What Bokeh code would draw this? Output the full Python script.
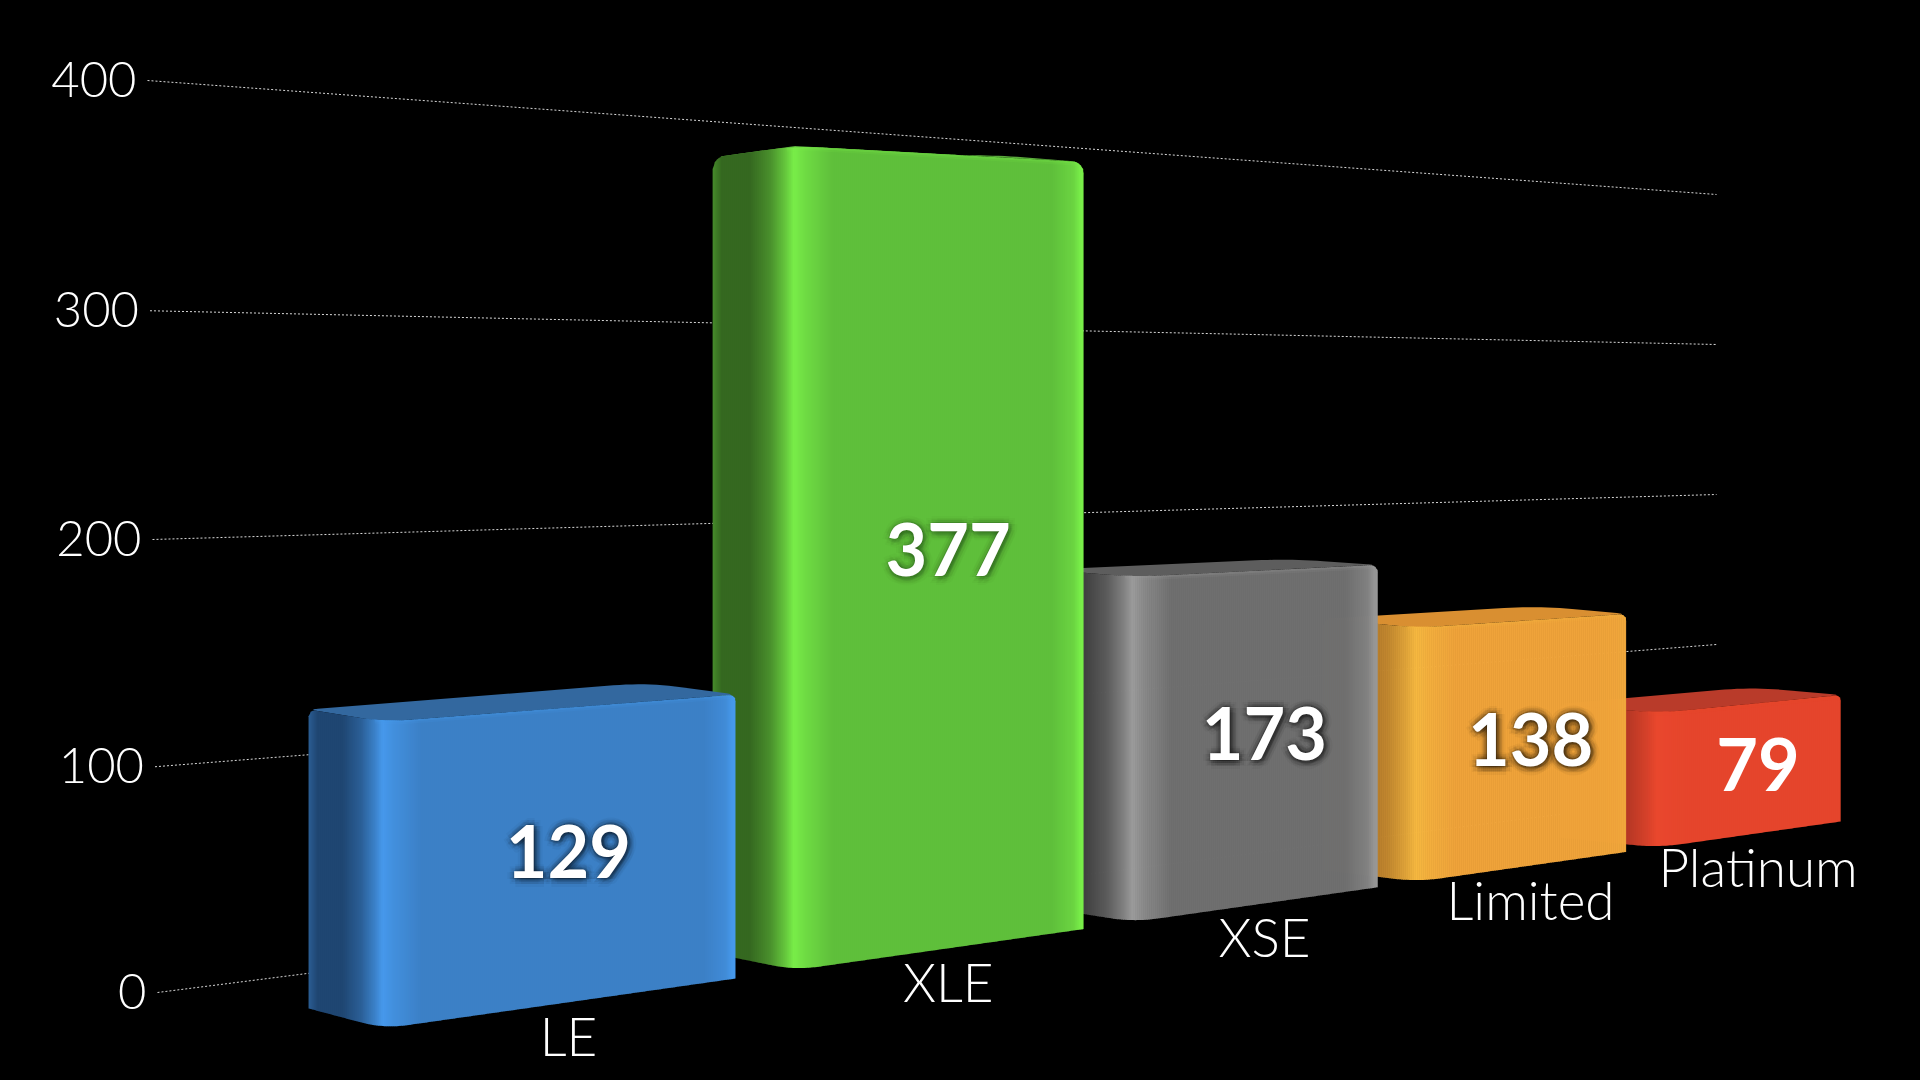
import math
import numpy as np
from bokeh.plotting import figure
from bokeh.models import Range1d
from bokeh.core.properties import value
from bokeh.embed import file_html
from bokeh.resources import INLINE

# ---------- data ----------
categories = ["LE", "XLE", "XSE", "Limited", "Platinum"]
values = [129, 377, 173, 138, 79]
tick_values = [0, 100, 200, 300, 400]

# ---------- styles ----------
DARK = ["#1f4672", "#356820", "#414141", "#ad7428", "#a23122"]
BASE = ["#3c80c6", "#5fbf3b", "#6f6f6f", "#efa33a", "#e5452c"]
HIGH = ["#4699ec", "#79ee49", "#9b9b9b", "#f6b840", "#e9472d"]
TOPC = ["#33689f", "#5aa93c", "#5d5d5d", "#d98f31", "#b93b2a"]
RIGHT_GLOW = [1.0, 1.0, 0.9, 0.25, 0.0]
SHADOW = [0.09, 0.05, 0.09, 0.10, 0.0]
SLOT_WIDTH = [0.842, 0.84, 0.85, 0.86, 0.876]
TOP_RISE = [12, 7, 6, 8, 8]
LIGHT_FONT = "Lato Light"
BOLD_FONT = "Lato"


# ---------- perspective of the picture ----------
def slot_x(t):
    return 4613 - 39254 / (t + 9.28)


def base_y(x):
    return 1028 - 0.1421 * (x - 383)


def unit(x):
    return 2.37 - 0.000532 * (x - 383) + 2.5e-8 * (x - 383) * (1840 - x)


def front_y(x, v):
    return base_y(x) - v * unit(x) - 6.3e-5 * v * v


def wall_left(v):
    return 157 - 0.025 * v, 992 - 2.28 * v + 7.5e-5 * v * (400 - v)


def wall_right(v):
    return 1716, 794 - 1.5 * v


def rgb(h):
    return np.array([int(h[i:i + 2], 16) for i in (1, 3, 5)], float)


def hexc(c):
    return "#%02x%02x%02x" % tuple(int(round(a)) for a in c)


def corner(points, i, r):
    """Replace polyline vertex i by a quadratic curve of reach r."""
    p0, p1, p2 = [np.array(points[k], float) for k in (i - 1, i, i + 1)]
    a = p1 + (p0 - p1) / np.linalg.norm(p0 - p1) * r
    b = p1 + (p2 - p1) / np.linalg.norm(p2 - p1) * r
    ts = np.linspace(0, 1, 12)
    return [tuple((1 - t) ** 2 * a + 2 * t * (1 - t) * p1 + t ** 2 * b) for t in ts]


p = figure(width=1920, height=1080, x_range=Range1d(0, 1920), y_range=Range1d(1080, 0),
           toolbar_location=None, output_backend="svg", min_border=0,
           background_fill_color="#000000", border_fill_color="#000000",
           outline_line_color=None)
p.axis.visible = False
p.grid.visible = False

# ---------- back wall grid and tick labels ----------
lefts = [wall_left(v) for v in tick_values]
rights = [wall_right(v) for v in tick_values]
p.segment(x0=[a[0] for a in lefts], y0=[a[1] for a in lefts],
          x1=[a[0] for a in rights], y1=[a[1] for a in rights],
          line_color="#d8d8d8", line_width=1, line_dash="2 2")
p.text(x=[a[0] - 11 for a in lefts], y=[a[1] - 1 for a in lefts],
       text=[str(v) for v in tick_values], text_color="#ffffff",
       text_font=value(LIGHT_FONT), text_font_size="49px",
       text_align="right", text_baseline="middle")

# ---------- bars, farthest first ----------
for i in reversed(range(len(values))):
    v = values[i]
    xF, xR = slot_x(i), slot_x(i + SLOT_WIDTH[i])
    dx = 75 + 0.018 * (xF - 383)
    xL = xF - dx
    yFt, yRt = front_y(xF, v), front_y(xR, v)
    yFb, yRb = base_y(xF), base_y(xR)
    slope = (yRt - yFt) / (xR - xF)
    B = (xR - 88, yRt - TOP_RISE[i])
    back_line = B[1] + (B[0] - xL) * (-slope) * 0.9
    yLt = max(back_line, yFt - 27 + 0.115 * v - 0.012 * (xF - 383))
    yLb = yFb - 20 + 0.008 * (xF - 383)
    r = 4 + 0.02 * v

    # top face
    outline = [(xF, yFt), (xL, yLt), B, (xR, yRt), (xF, yFt)]
    poly = [outline[0]] + corner(outline, 1, r * 1.4) + corner(outline, 2, 34) + corner(outline, 3, r * 1.4)
    p.patch(x=[a[0] for a in poly], y=[a[1] for a in poly], fill_color=TOPC[i],
            line_color=None)

    # silhouettes of front + side
    top_pts = [(xL, yLt), (xF, yFt), (xR, yRt)]
    top_line = [top_pts[0]] + corner(top_pts, 1, 26) + [top_pts[2]]
    bot_pts = [(xL, yLb), (xF, yFb), (xR, yRb)]
    bot_line = [bot_pts[0]] + corner(bot_pts, 1, 24) + [bot_pts[2]]

    xs = np.arange(xL, xR + 0.01, 2.0)
    if xs[-1] < xR:
        xs = np.append(xs, xR)
    tops = np.interp(xs, [a[0] for a in top_line], [a[1] for a in top_line])
    bots = np.interp(xs, [a[0] for a in bot_line], [a[1] for a in bot_line])
    e = np.clip((xs - xL) / r, 0, 1)
    tops = tops + r * (1 - np.sqrt(1 - (1 - e) ** 2))
    e = np.clip((xR - xs) / r, 0, 1)
    tops = tops + r * (1 - np.sqrt(1 - (1 - e) ** 2))

    dark, base, high = rgb(DARK[i]), rgb(BASE[i]), rgb(HIGH[i])
    right_high = base + (high - base) * RIGHT_GLOW[i]
    stops = [xL, xL + 9, xF - 0.55 * dx, xF - 0.30 * dx, xF - 0.12 * dx, xF - 1, xF + 10, xF + 38,
             xR - 32, xR - 10, xR - 3, xR]
    cols = [dark + (base - dark) * 0.4, dark, dark, dark + (high - dark) * 0.30,
            dark + (high - dark) * 0.70, high, base + (high - base) * 0.6, base,
            base, base + (right_high - base) * 0.45, right_high, right_high]
    q_x, q_y, q_c = [], [], []
    for k in range(len(xs) - 1):
        mid = 0.5 * (xs[k] + xs[k + 1])
        c = [np.interp(mid, stops, [col[ch] for col in cols]) for ch in range(3)]
        right = xs[k + 1] + (0.6 if k < len(xs) - 2 else 0)
        q_x.append([xs[k], right, right, xs[k]])
        q_y.append([tops[k], tops[k + 1], bots[k + 1], bots[k]])
        q_c.append(hexc(np.clip(c, 0, 255)))
    p.patches(xs=q_x, ys=q_y, fill_color=q_c, line_color=None)

    # soft light along the upper front edge
    mask = xs >= xF - 10
    for depth, alpha in ((2, 0.22), (4, 0.12)):
        ex = list(xs[mask]) + list(xs[mask][::-1])
        ey = list(tops[mask]) + list((tops[mask] + depth)[::-1])
        p.patch(x=ex, y=ey, fill_color=HIGH[i], fill_alpha=alpha, line_color=None)

# ---------- labels ----------
lab_x, val_y, cat_y = [], [], []
for i, v in enumerate(values):
    cx = 0.5 * (slot_x(i) + slot_x(i + SLOT_WIDTH[i])) + 9
    lab_x.append(cx)
    val_y.append(front_y(cx, v / 2) - 4)
    cat_y.append(base_y(cx) + 33.5)

for i, v in enumerate(values):
    if SHADOW[i] <= 0:
        continue
    for radius in (2.5, 5.5, 8.0):
        for ang in np.linspace(0, 2 * math.pi, 8, endpoint=False):
            p.text(x=[lab_x[i] + 1 + radius * math.cos(ang)],
                   y=[val_y[i] + 1 + radius * math.sin(ang)],
                   text=[str(v)], text_color="#000000", text_alpha=SHADOW[i] * (1.2 - radius / 10),
                   text_font=value(BOLD_FONT), text_font_style="bold", text_font_size="72px",
                   text_align="center", text_baseline="middle")

p.text(x=lab_x, y=val_y, text=[str(v) for v in values], text_color="#ffffff",
       text_font=value(BOLD_FONT), text_font_style="bold", text_font_size="72px",
       text_align="center", text_baseline="middle")
p.text(x=lab_x, y=cat_y, text=categories, text_color="#ffffff",
       text_font=value(LIGHT_FONT), text_font_size="53px",
       text_align="center", text_baseline="middle")

html = file_html(p, INLINE).replace("<body>", '<body style="background:#000000">')
open("out.html", "w").write(html)
